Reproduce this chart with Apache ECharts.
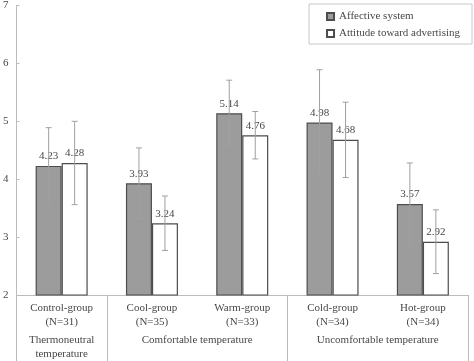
<!DOCTYPE html>
<html><head><meta charset="utf-8">
<script src="https://cdn.jsdelivr.net/npm/echarts@6/dist/echarts.min.js"></script>
<style>html,body{margin:0;padding:0;background:#fff}#c{width:474px;height:361px}</style>
</head><body><div id="c"></div>
<script>
const categories = ['Control-group\n(N=31)', 'Cool-group\n(N=35)', 'Warm-group\n(N=33)', 'Cold-group\n(N=34)', 'Hot-group\n(N=34)'];
const affective = [4.23, 3.93, 5.14, 4.98, 3.57];
const attitude = [4.28, 3.24, 4.76, 4.68, 2.92];
const affectiveErr = [0.66, 0.61, 0.57, 0.91, 0.71];
const attitudeErr = [0.72, 0.47, 0.41, 0.65, 0.55];
const groupNames = ['Thermoneutral\ntemperature', 'Comfortable temperature', 'Uncomfortable temperature'];
const groupSpans = [1, 2, 2];
const yTicks = [2, 3, 4, 5, 6, 7];

const FONT = '"Liberation Serif", "DejaVu Serif", serif';
const TXT = '#484848';
const AX = '#bcbcbc';
const BAR_FRAC = 0.288;

const bounds = [0];
groupSpans.forEach(s => bounds.push(bounds[bounds.length - 1] + s));
const centers = groupSpans.map((s, i) => bounds[i] + s / 2);

function errData(vals, errs) { return vals.map((v, i) => [i, v - errs[i], v + errs[i]]); }
function errSeries(vals, errs, side) {
  return {
    type: 'custom', z: 5, silent: true,
    data: errData(vals, errs),
    renderItem: function (params, api) {
      const band = api.size([1, 0])[0];
      const cx = api.coord([api.value(0), 0])[0] + side * band * BAR_FRAC / 2;
      const yl = api.coord([api.value(0), api.value(1)])[1];
      const yh = api.coord([api.value(0), api.value(2)])[1];
      const c = 3;
      const st = { stroke: '#a0a0a0', lineWidth: 1 };
      return { type: 'group', children: [
        { type: 'line', shape: { x1: cx, y1: yl, x2: cx, y2: yh }, style: st },
        { type: 'line', shape: { x1: cx - c, y1: yl, x2: cx + c, y2: yl }, style: st },
        { type: 'line', shape: { x1: cx - c, y1: yh, x2: cx + c, y2: yh }, style: st }
      ]};
    }
  };
}
const lbl = { show: true, position: 'top', distance: 4, color: TXT, fontFamily: FONT, fontSize: 11, formatter: p => p.value.toFixed(2) };

const chart = echarts.init(document.getElementById('c'));
chart.setOption({
  animation: false,
  textStyle: { fontFamily: FONT },
  grid: { left: 16, right: 6, top: 4, bottom: 66, containLabel: false },
  legend: {
    orient: 'vertical', right: 2, top: 4,
    borderColor: '#c8c8c8', borderWidth: 1,
    padding: [7, 12, 5, 17],
    itemWidth: 7, itemHeight: 7, itemGap: 6,
    textStyle: { color: TXT, fontFamily: FONT, fontSize: 11 },
    data: [{ name: 'Affective system', icon: 'rect' }, { name: 'Attitude toward advertising', icon: 'rect' }]
  },
  xAxis: [{
    type: 'category', data: categories,
    axisLine: { lineStyle: { color: AX } },
    axisTick: { show: false },
    axisLabel: { color: TXT, fontFamily: FONT, fontSize: 11, lineHeight: 14, margin: 6, interval: 0 }
  }, {
    type: 'value', min: 0, max: 5, position: 'bottom',
    axisLine: { show: false },
    splitLine: { show: false },
    axisTick: { show: true, customValues: bounds, length: 66, lineStyle: { color: AX } },
    axisLabel: { customValues: centers, color: TXT, fontFamily: FONT, fontSize: 11, lineHeight: 14, margin: 38,
      formatter: v => { const i = centers.indexOf(v); return i >= 0 ? groupNames[i] : ''; } }
  }],
  yAxis: {
    type: 'value', min: yTicks[0], max: yTicks[yTicks.length - 1], interval: 1,
    axisLine: { show: true, lineStyle: { color: AX } },
    axisTick: { show: true, inside: true, length: 3, lineStyle: { color: AX } },
    splitLine: { show: false },
    axisLabel: { color: TXT, fontFamily: FONT, fontSize: 11, margin: 8 }
  },
  series: [
    { name: 'Affective system', type: 'bar', data: affective, barWidth: (BAR_FRAC * 100) + '%', barGap: '0%',
      itemStyle: { color: '#9c9c9c', borderColor: '#4d4d4d', borderWidth: 1.2 }, label: lbl },
    { name: 'Attitude toward advertising', type: 'bar', data: attitude, barWidth: (BAR_FRAC * 100) + '%', barGap: '0%',
      itemStyle: { color: '#ffffff', borderColor: '#4d4d4d', borderWidth: 1.2 }, label: lbl },
    errSeries(affective, affectiveErr, -1),
    errSeries(attitude, attitudeErr, 1)
  ]
});
</script></body></html>
